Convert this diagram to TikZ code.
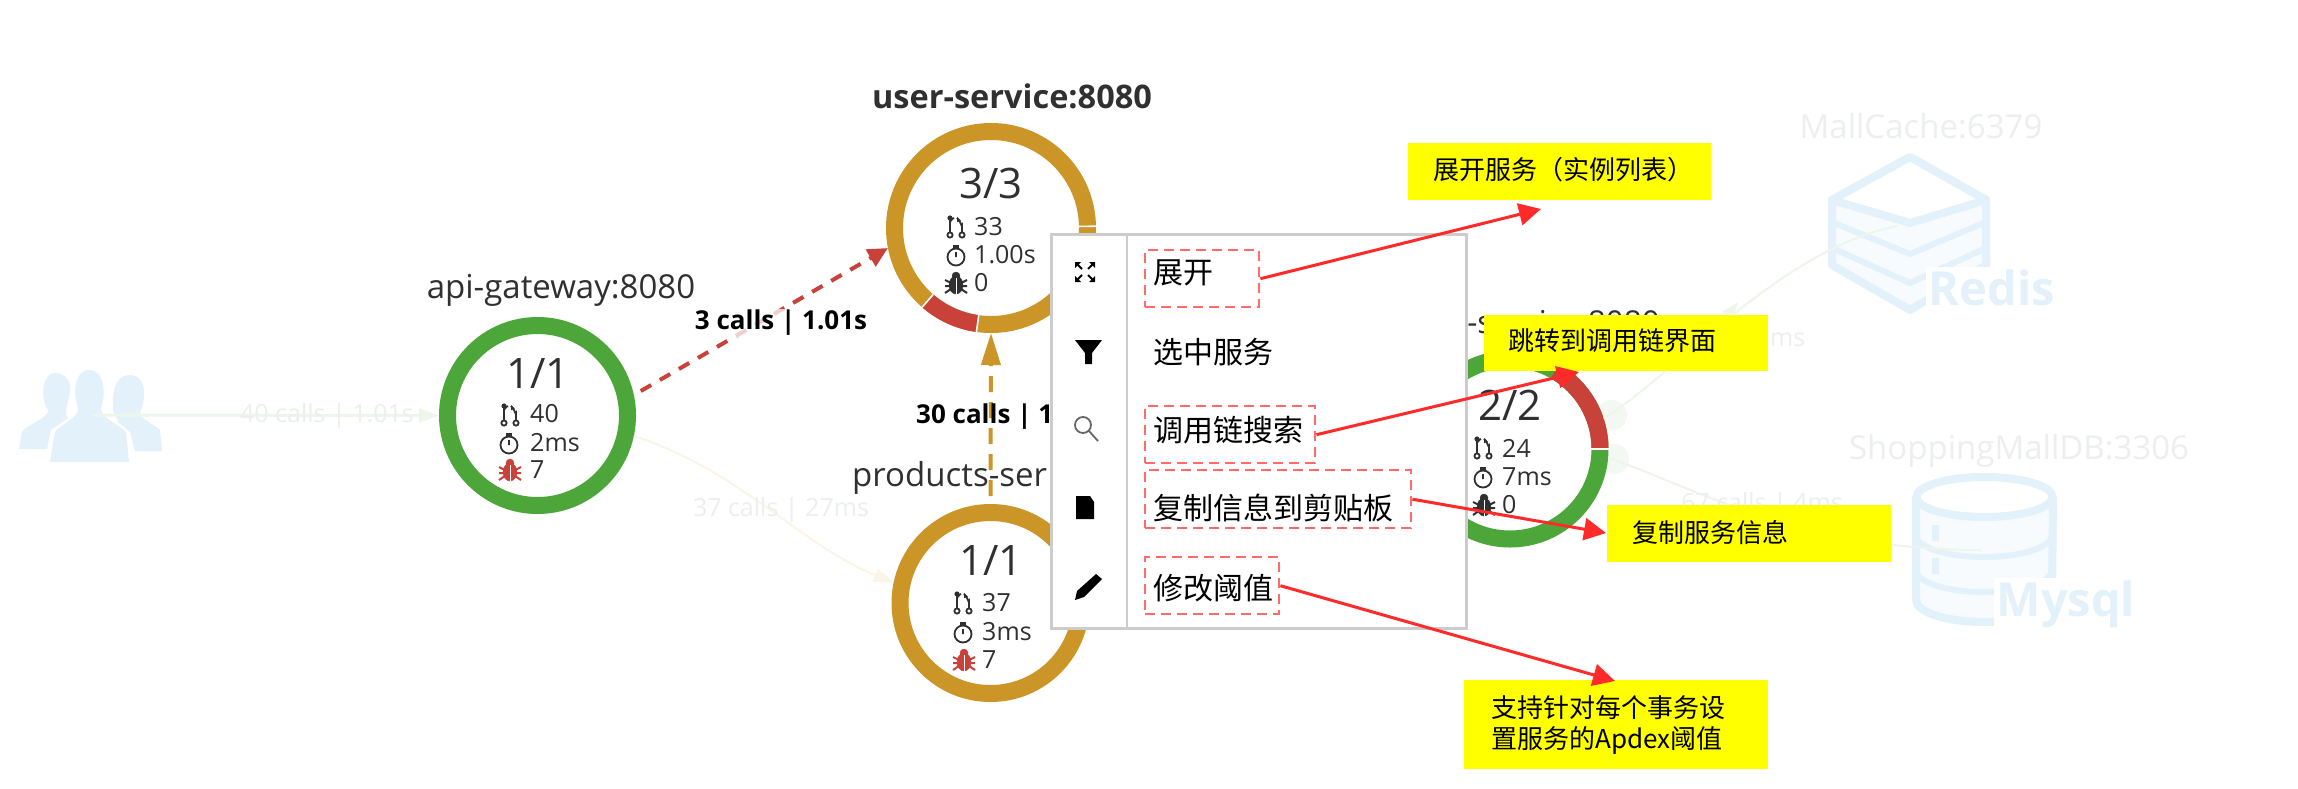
\documentclass[tikz,border=0pt]{standalone}
\usepackage{fontspec}
\setmainfont{Open Sans}
\newfontfamily\cjk{Noto Sans CJK SC}
\usetikzlibrary{arrows.meta,calc}
\newcommand{\fz}[1]{\fontsize{#1}{#1}\selectfont}
\definecolor{ringgreen}{HTML}{4CA63A}
\definecolor{ringgold}{HTML}{CB9527}
\definecolor{ringred}{HTML}{C8423A}
\definecolor{pale}{HTML}{E3F1FB}
\definecolor{palefill}{HTML}{F7FBFE}
\definecolor{paletext}{HTML}{EDEFEF}
\definecolor{paleedge}{HTML}{EEF6EC}
\definecolor{paleedgeB}{HTML}{FBF5E8}
\definecolor{callred}{HTML}{FF2A2A}
\definecolor{dashpink}{HTML}{FF6B6B}
\definecolor{txt}{HTML}{303030}
\definecolor{noteyellow}{RGB}{255,255,0}
\tikzset{
  ring/.style={circle,draw=#1,line width=17pt,fill=white,inner sep=0pt,outer sep=8.5pt},
  lbl/.style={inner sep=0pt,text=txt},
  plain/.style={inner sep=0pt,anchor=center,text=txt},
  yellowbox/.style={fill=noteyellow,inner sep=0pt,anchor=north west},
  menutext/.style={inner sep=0pt,anchor=west,text=black,font=\cjk\fz{30}},
  dashbox/.style={draw=dashpink,line width=2.4pt,dash pattern=on 10pt off 6pt,inner sep=0pt,anchor=north west},
  callout/.style={draw=callred,line width=3pt,-{Triangle[length=22pt,width=22pt]}},
  faint/.style={inner sep=0pt,text=paletext},
  branch/.pic={\draw[txt,line width=1.8pt] (-6,8) circle (2.6) (6,8) circle (2.6) (-6,5) -- (-6,-6) to[out=-90,in=180] (-2,-9) (6,5) -- (6,-2) to[out=-90,in=-30] (1,-9);\fill[txt] (-6,-9) circle (2.6) (1,-10) -- (5,-6) -- (1,-5) -- cycle;},
  watch/.pic={\draw[txt,line width=1.8pt] (0,2) circle (8.5) (0,2) -- (0,-3);\fill[txt] (-3,-10) rectangle (3,-7.5);},
  bugicon/.pic={\fill[pic actions] (0,2) ellipse (7 and 9) (0,-7) circle (4);\draw[pic actions,line width=2pt] (-11,-3) -- (-5,0) (11,-3) -- (5,0) (-11,3) -- (11,3) (-11,10) -- (-5,6) (11,10) -- (5,6);\draw[white,line width=1pt] (0,-5) -- (0,11);},
}
\begin{document}
\begin{tikzpicture}[x=1pt,y=-1pt]
\useasboundingbox (0,0) rectangle (2298,788);
\fill[white] (0,0) rectangle (2298,788);

% faded users icon
\fill[pale] (89,370) .. controls (74,370) and (73,395) .. (78,408) .. controls (79,418) and (60,425) .. (55,432) -- (50,462) -- (129,462) -- (126,432) .. controls (120,425) and (100,418) .. (101,408) .. controls (106,395) and (105,370) .. (89,370) -- cycle;
\fill[pale] (55,373) .. controls (42,373) and (40,398) .. (48,410) .. controls (50,418) and (25,425) .. (22,432) -- (19,449) -- (47,449) -- (51,430) -- (68,418) .. controls (62,412) and (72,395) .. (70,385) .. controls (68,377) and (62,373) .. (55,373) -- cycle;
\fill[pale] (129,375) .. controls (115,375) and (112,395) .. (113,405) .. controls (112,415) and (118,418) .. (118,422) -- (130,432) -- (135,451) -- (162,451) -- (160,430) .. controls (155,425) and (138,418) .. (140,412) .. controls (146,400) and (148,375) .. (129,375) -- cycle;
\coordinate (users) at (92,415);

% faded cube
\node[inner sep=0pt] (redisicon) at (1909,233) {};
\draw[pale,line width=8pt,fill=palefill,line join=round] (1910,157) -- (1986,200) -- (1986,265) -- (1910,310) -- (1832,265) -- (1832,200) -- cycle;
\draw[pale,line width=8pt,fill=white,line join=round] (1910,157) -- (1986,200) -- (1910,223) -- (1832,200) -- cycle;
\draw[pale,line width=6pt] (1832,222) -- (1910,254) -- (1986,222) (1832,248) -- (1910,283) -- (1986,248);
\node[inner sep=3pt,fill=white,font=\bfseries\fz{47},text=pale] (redislabel) at (1992,288) {Redis};
\node[faint,font=\fz{33}] (mallcache) at (1921,126) {MallCache:6379};

% faded cylinder
\node[inner sep=0pt] (dbicon) at (1984,550) {};
\draw[pale,line width=8pt,fill=palefill] (1916,497) -- (1916,600) arc (180:0:68 and 22) -- (2053,497);
\draw[pale,line width=8pt,fill=white] (1984.5,497) ellipse (68 and 20);
\draw[pale,line width=6pt] (1916,535) arc (180:0:68 and 22) (1916,570) arc (180:0:68 and 22);
\fill[pale] (1932,525) rectangle (1939,541) (1932,558) rectangle (1939,574);
\node[inner sep=3pt,fill=white,font=\bfseries\fz{47},text=pale] (mysqllabel) at (2066,604) {Mysql};
\node[faint,font=\fz{33}] (malldb) at (2019,451) {ShoppingMallDB:3306};

% rings
\fill[paleedge!70] (1612,415) circle (15) (1614,459) circle (15);
\node[ring=ringgreen,minimum size=180pt] (api) at (537.5,415.5) {};
\node[ring=ringgold,minimum size=193pt] (user) at (991,228) {};
\node[ring=ringgold,minimum size=181pt] (prod) at (990.5,603) {};
\node[ring=ringgreen,minimum size=180pt] (order) at (1510,449) {};
\draw[ringred,line width=17pt] ($(user)+(131:96.5)$) arc (131:98:96.5);
\draw[white,line width=1.6pt] ($(user)+(131:88)$) -- ($(user)+(131:105)$) ($(user)+(98:88)$) -- ($(user)+(98:105)$) ($(user)+(-1:88)$) -- ($(user)+(-1:105)$);
\draw[ringred,line width=17pt] ($(order)+(0:90)$) arc (0:-60:90);
\draw[white,line width=1.6pt] ($(order)+(0:81)$) -- ($(order)+(0:99)$);

% ring labels
\node[lbl,font=\fz{33}] (apilabel) at (561,290) {api-gateway:8080};
\node[lbl,font=\bfseries\fz{32.5}] (userlabel) at (1012,96) {user-service:8080};
\node[lbl,font=\fz{33},anchor=west] (prodlabel) at (852,478) {products-ser};
\node[lbl,font=\fz{31.5},anchor=east] (orderlabel) at (1660,322) {-service:8080};

% ring contents
\node[plain,font=\fz{42}] (apicount) at (538,373) {1/1};
\pic at (510,415) {branch};
\node[lbl,anchor=west,font=\fz{25}] (apicalls) at (530,414) {40};
\pic at (509,443) {watch};
\node[lbl,anchor=west,font=\fz{25}] (apitime) at (530,443) {2ms};
\pic[fill=ringred,draw=ringred] at (510,470) {bugicon};
\node[lbl,anchor=west,font=\fz{25}] (apierr) at (530,470) {7};

\node[plain,font=\fz{42}] (usercount) at (991,183) {3/3};
\pic at (956,227) {branch};
\node[lbl,anchor=west,font=\fz{25}] (usercalls) at (974,227) {33};
\pic at (956,255) {watch};
\node[lbl,anchor=west,font=\fz{25}] (usertime) at (974,255) {1.00s};
\pic[fill=txt,draw=txt] at (956,283) {bugicon};
\node[lbl,anchor=west,font=\fz{25}] (usererr) at (974,283) {0};

\node[plain,font=\fz{42}] (prodcount) at (991,560) {1/1};
\pic at (963,603) {branch};
\node[lbl,anchor=west,font=\fz{25}] (prodcalls) at (982,603) {37};
\pic at (963,632) {watch};
\node[lbl,anchor=west,font=\fz{25}] (prodtime) at (982,632) {3ms};
\pic[fill=ringred,draw=ringred] at (964,660) {bugicon};
\node[lbl,anchor=west,font=\fz{25}] (proderr) at (982,660) {7};

\node[plain,font=\fz{42}] (ordercount) at (1510,405) {2/2};
\pic at (1483,448) {branch};
\node[lbl,anchor=west,font=\fz{25}] (ordercalls) at (1502,448) {24};
\pic at (1483,477) {watch};
\node[lbl,anchor=west,font=\fz{25}] (ordertime) at (1502,477) {7ms};
\pic[fill=txt,draw=txt] at (1484,505) {bugicon};
\node[lbl,anchor=west,font=\fz{25}] (ordererr) at (1502,505) {0};

% faded connectors
\coordinate (redisend) at (1897,226);
\coordinate (dbend) at (1981,550);
\draw[paleedge,line width=3pt,-{Triangle[length=20pt,width=14pt]}] (users) -- (api.west);
\draw[paleedgeB,line width=2pt,-{Triangle[length=20pt,width=14pt]}] (api.-12) .. controls (740,470) and (800,545) .. (prod.168);
\draw[paleedge,line width=2pt] (order.18) .. controls (1680,370) and (1780,250) .. (redisend);
\fill[paleedge] (1738,302) -- (1722,312) -- (1733,318) -- cycle;
\draw[paleedge,line width=2pt] (order.-5) .. controls (1700,490) and (1800,550) .. (dbend);
\node[faint,font=\fz{25}] (lab40) at (327,416) {40 calls | 1.01s};
\node[faint,font=\fz{25}] (lab37) at (781,510) {37 calls | 27ms};
\node[faint,font=\fz{25}] (lab67) at (1762,505) {67 calls | 4ms};
\node[faint,font=\fz{25},anchor=west] (labms) at (1770,340) {ms};

% bold connectors
\draw[ringred,line width=4pt,dash pattern=on 12pt off 10pt,shorten <=8pt,-{Triangle[length=20pt,width=19pt]}] (api.12) -- (user.191);
\draw[ringgold,line width=4pt,dash pattern=on 16pt off 10pt,shorten <=8pt,-{Triangle[length=32pt,width=19pt]}] (prod.north) -- (user.south);
\node[inner sep=1pt,fill=white,fill opacity=.75,text opacity=1,text=black,font=\bfseries\fz{26}] (lab3) at (781,323) {3 calls | 1.01s};
\node[inner sep=1pt,anchor=west,text=black,font=\bfseries\fz{26}] (lab30) at (915,417) {30 calls | 1};

% context menu
\node[draw=black!20,line width=3pt,fill=white,inner sep=0pt,anchor=north west,minimum width=415pt,minimum height=394pt] (menu) at (1050,233) {};
\draw[black!20,line width=2pt] (1127,233) -- (1127,627);

% menu icons
\node[inner sep=0pt] (iconexpand) at (1085,272) {};
\begin{scope}[shift={(iconexpand)},line width=2pt]
  \foreach \sx/\sy in {1/1,1/-1,-1/1,-1/-1}{
    \draw[black] (\sx*3,\sy*3) -- (\sx*8,\sy*8);
    \fill[black] (\sx*10,\sy*10) -- (\sx*4,\sy*10) -- (\sx*10,\sy*4) -- cycle;}
\end{scope}
\node[inner sep=0pt] (iconfunnel) at (1088,352) {};
\fill[black] (1075,340) -- (1102,340) -- (1092,353) -- (1092,364) -- (1085,364) -- (1085,353) -- cycle;
\node[inner sep=0pt] (iconsearch) at (1086,428) {};
\draw[black!60,line width=1.8pt] (1083,425) circle (8) (1089,431) -- (1098,441);
\node[inner sep=0pt] (icondoc) at (1084,508) {};
\fill[black] (1076,496) -- (1090,496) -- (1094,502) -- (1094,519) -- (1076,519) -- cycle;
\node[inner sep=0pt] (iconpencil) at (1088,587) {};
\fill[black] (1075,600) -- (1077,591) -- (1096,574) -- (1102,579) -- (1084,597) -- cycle;

% menu text
\node[menutext] (m1) at (1153,273) {展开};
\node[menutext] (m2) at (1153,352) {选中服务};
\node[menutext] (m3) at (1153,430) {调用链搜索};
\node[menutext] (m4) at (1153,508) {复制信息到剪贴板};
\node[menutext] (m5) at (1153,588) {修改阈值};
\node[dashbox,minimum width=114pt,minimum height=57pt] (d1) at (1144,249) {};
\node[dashbox,minimum width=170pt,minimum height=57pt] (d3) at (1144,405) {};
\node[dashbox,minimum width=266pt,minimum height=58pt] (d4) at (1144,469) {};
\node[dashbox,minimum width=134pt,minimum height=57pt] (d5) at (1144,556) {};

% yellow notes
\node[yellowbox,minimum width=303pt,minimum height=57pt] (y1) at (1408,143) {};
\node[inner sep=0pt,anchor=west,font=\cjk\fz{26}] (t1) at (1433,170) {展开服务（实例列表）};
\node[yellowbox,minimum width=284pt,minimum height=56pt] (y2) at (1484,315) {};
\node[inner sep=0pt,anchor=west,font=\cjk\fz{26}] (t2) at (1508,341) {跳转到调用链界面};
\node[yellowbox,minimum width=284pt,minimum height=57pt] (y3) at (1607,505) {};
\node[inner sep=0pt,anchor=west,font=\cjk\fz{26}] (t3) at (1632,533) {复制服务信息};
\node[yellowbox,minimum width=304pt,minimum height=89pt] (y4) at (1464,680) {};
\node[inner sep=0pt,anchor=west,align=left,font=\cjk\fontsize{26}{31}\selectfont] (t4) at (1491,725) {支持针对每个事务设\\置服务的Apdex阈值};

% callouts
\coordinate (tip1) at (1541,209);
\coordinate (tip2) at (1579,372);
\coordinate (tip3) at (1606,533);
\coordinate (tip4) at (1615,681);
\draw[callout] (d1.east) -- (tip1);
\draw[callout] (d3.east) -- (tip2);
\draw[callout] (d4.east) -- (tip3);
\draw[callout] (d5.east) -- (tip4);
\end{tikzpicture}
\end{document}
